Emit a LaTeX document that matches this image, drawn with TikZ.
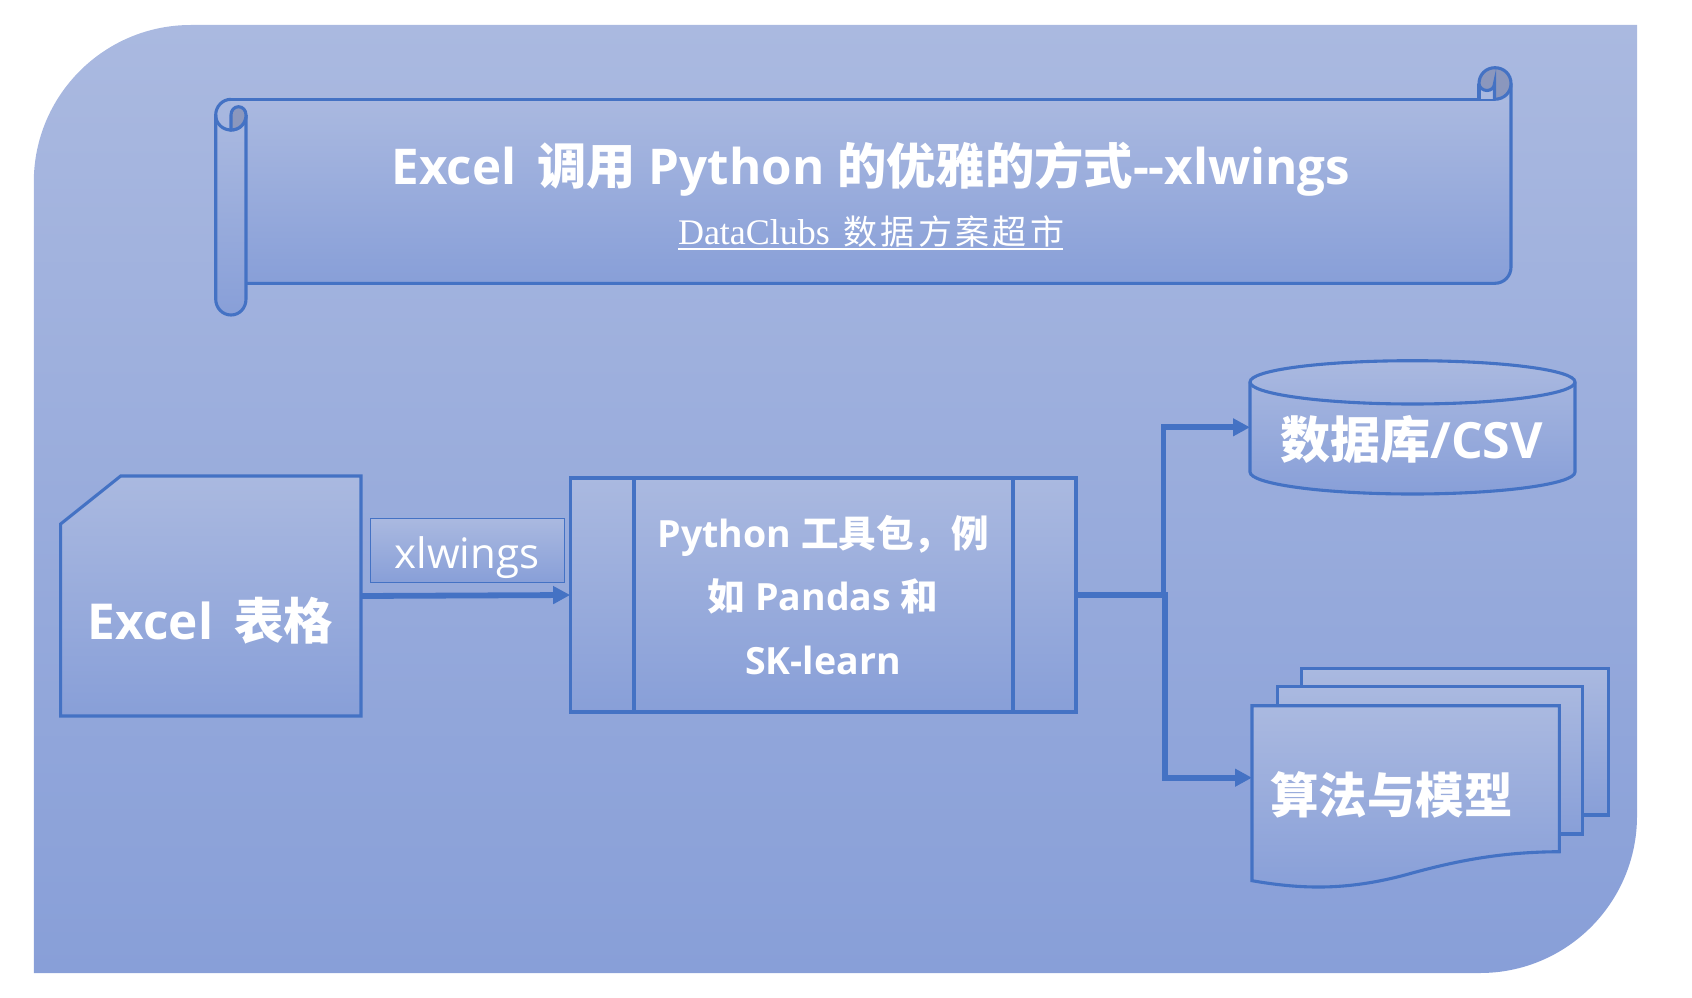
\documentclass[tikz,border=0pt]{standalone}
\usepackage{fontspec}
\usetikzlibrary{arrows.meta,shapes.geometric}
\setmainfont{Open Sans}
\newfontfamily\cjk{Noto Sans CJK SC}
\newfontfamily\serifl{Liberation Serif}
\newcommand{\cj}[1]{{\cjk #1}}
\definecolor{gtop}{HTML}{AAB9E0}
\definecolor{gbot}{HTML}{889FD8}
\definecolor{edge}{HTML}{4472C4}
\definecolor{curl}{HTML}{8B97BD}
\tikzset{
  grad/.style={top color=gtop,bottom color=gbot},
  outl/.style={draw=edge,line width=3.1pt,line join=miter},
  frame/.style={inner sep=0pt,outer sep=0pt,draw=none},
  lbl/.style={inner sep=0pt,outer sep=0pt,text=white,anchor=base,font=\bfseries},
  link/.style={draw=edge,line width=5.8pt,line join=miter},
  linkarrow/.style={link,-{Triangle[length=17pt,width=17pt]}},
}
\begin{document}
\begin{tikzpicture}[x=1pt,y=-1pt]
\useasboundingbox (0,0) rectangle (1692,998);
% panel
\path[grad] (33.8,973) -- (33.8,182) .. controls (33.8,95.3) and (104.1,25) .. (190.8,25) -- (1637,25) -- (1637,816) .. controls (1637,902.7) and (1566.7,973) .. (1480,973) -- cycle;
% scroll body
\path[grad] (231,99.3) -- (1511,99.3) -- (1511,267) .. controls (1511,276) and (1504,283.3) .. (1495,283.3) -- (231,283.3) -- cycle;
\draw[outl] (246,283.3) -- (1495,283.3) .. controls (1504,283.3) and (1511,276) .. (1511,267) -- (1511,83.5);
\draw[outl] (231,99.3) -- (1495,99.3);
% left roll
\path[grad] (215.7,115) -- (215.7,299) .. controls (215.7,308) and (222.5,315) .. (231,315) .. controls (239.5,315) and (246,308) .. (246,299) -- (246,115) .. controls (246,123.5) and (239.5,130) .. (231,130) .. controls (222.5,130) and (215.7,123.5) .. (215.7,115) -- cycle;
\draw[outl] (231,99.3) .. controls (222.5,99.3) and (215.7,106.5) .. (215.7,115) -- (215.7,299) .. controls (215.7,308) and (222.5,315) .. (231,315) .. controls (239.5,315) and (246,308) .. (246,299) -- (246,115);
\draw[outl] (215.7,115) .. controls (215.7,123.5) and (222.5,130) .. (231,130) .. controls (239.5,130) and (246,123.5) .. (246,115);
\draw[outl,fill=curl] (231,130) -- (231,115) .. controls (231,110.5) and (234,106.7) .. (238.5,106.7) .. controls (243,106.7) and (246,110.5) .. (246,115) .. controls (246,123.5) and (239.5,130) .. (231,130) -- cycle;
% right curl
\fill[gtop] (1479,83) rectangle (1494.5,99.3);
\draw[outl,fill=curl] (1479,83.5) .. controls (1479,74.5) and (1486,67.7) .. (1495,67.7) .. controls (1504,67.7) and (1511,74.5) .. (1511,83.5) .. controls (1511,92.5) and (1504,99.3) .. (1494.5,99.3) -- (1494.5,83.5) .. controls (1494.5,87.5) and (1491,90.5) .. (1487,90.5) .. controls (1483,90.5) and (1479,87.5) .. (1479,83.5) -- cycle;
\draw[outl] (1479,83.5) -- (1479,99.3);
\node[lbl,font=\bfseries\fontsize{49.3}{58}\selectfont] (title) at (871,184) {Excel \,\cj{调用} Python \cj{的优雅的方式}{-}{-}xlwings};
\node[lbl,anchor=base west,font=\fontsize{36}{40}\selectfont] (sub) at (678,244.5) {\makebox[0pt][l]{\rule[-5pt]{385pt}{1.2pt}}{\serifl DataClubs}\hspace{4pt} \cj{\fontsize{34}{40}\selectfont\addfontfeature{LetterSpace=10}数据方案超市}};
% excel sheet
\path[grad,outl] (120.7,476) -- (361,476) -- (361,716) -- (60.6,716) -- (60.6,524) -- cycle;
\node[frame,minimum width=300.4pt,minimum height=240pt] (excel) at (210.8,596) {};
\node[lbl,font=\bfseries\fontsize{49.5}{58}\selectfont] (exceltext) at (210.6,639.5) {Excel \,\cj{表格}};
% xlwings label
\node[frame,grad,draw=edge,line width=1pt,minimum width=194pt,minimum height=63.6pt] (xlw) at (467.6,550.5) {};
\node[inner sep=0pt,text=white,anchor=base,font=\fontsize{42}{48}\selectfont] (xlwtext) at (467,568.5) {xlwings};
% process
\node[frame,grad,outl,draw=edge,text=white,align=center,font=\bfseries\fontsize{37.5}{63.5}\selectfont,minimum width=505.8pt,minimum height=234pt] (py) at (823.1,595) {Python \cj{工具包，例}\\\cj{如} Pandas \cj{和}\\SK-learn};
\draw[outl] (634,478) -- (634,712);
\draw[outl] (1013,478) -- (1013,712);
% database
\path[grad,outl] (1250,382) .. controls (1250,370) and (1323,360.7) .. (1412.5,360.7) .. controls (1502,360.7) and (1575,370) .. (1575,382) -- (1575,472) .. controls (1575,484) and (1502,494) .. (1412.5,494) .. controls (1323,494) and (1250,484) .. (1250,472) -- cycle;
\draw[outl] (1250,382) .. controls (1250,394) and (1323,404) .. (1412.5,404) .. controls (1502,404) and (1575,394) .. (1575,382);
\node[frame,minimum width=325pt,minimum height=133.3pt] (db) at (1412.5,427.3) {};
\node[lbl,font=\bfseries\fontsize{50}{58}\selectfont] (dbtext) at (1411.7,458) {\cj{数据库}/CSV};
% stacked documents
\path[grad,outl] (1301.4,668.3) rectangle (1608.7,815);
\path[grad,outl] (1277.5,686.7) rectangle (1582.8,834);
\path[grad,outl] (1252,705.7) -- (1559.3,705.7) -- (1559.3,851.7) .. controls (1500,852) and (1455,861) .. (1405,875) .. controls (1345,891) and (1300,889) .. (1252,880.7) -- cycle;
\node[frame,minimum width=307.3pt,minimum height=144pt] (docs) at (1405.65,777.7) {};
\node[lbl,font=\bfseries\fontsize{48.5}{58}\selectfont] (docstext) at (1391.5,813) {\cj{算法与模型}};
% connectors
\draw[linkarrow] (excel.east) -- (py.west);
\draw[linkarrow] (py.east) -- ++(87.5,0) |- (db.west);
\draw[linkarrow] (py.east) -- ++(89,0) |- (docs.west);
\end{tikzpicture}
\end{document}
